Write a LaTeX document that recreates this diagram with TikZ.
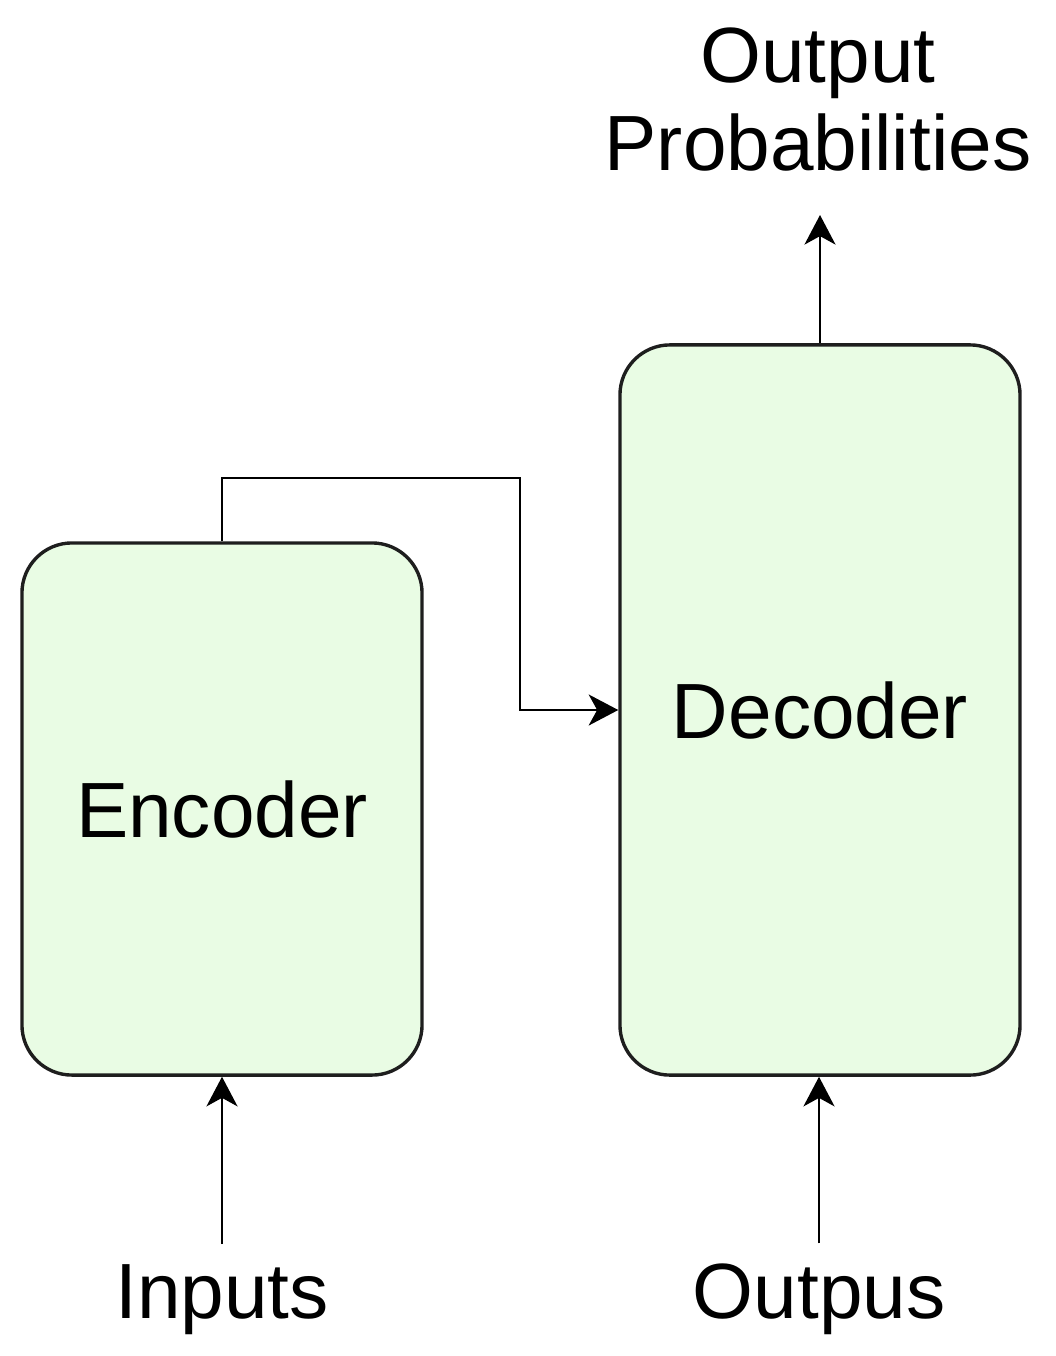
\documentclass[tikz,border=0pt]{standalone}
\usepackage{fontspec}
\setmainfont{Liberation Sans}
\usepackage{tikz}
\usetikzlibrary{positioning}
\usetikzlibrary{arrows.meta}
\definecolor{blockfill}{RGB}{233,252,228}
\definecolor{blockline}{RGB}{30,30,30}
\tikzset{block/.style={draw=blockline, fill=blockfill, line width=2.4pt, rounded corners=1.25cm, minimum width=10cm}}
\tikzset{label/.style={inner sep=14pt}}
\tikzset{flow/.style={line width=2.1pt, -{Stealth[length=21pt,width=22pt,inset=6pt]}}}

\begin{document}
\begin{tikzpicture}[x=0.025cm,y=-0.025cm,font=\fontsize{55.7pt}{62.4pt}\selectfont]
\useasboundingbox (0,0) rectangle (1055,1356);
\node[block, minimum height=13.3cm] (enc) at (222,809) {Encoder};
\node[block, minimum height=18.25cm] (dec) at (820,710) {Decoder};
\node[label, anchor=base] (inp) at (222,1318) {Inputs};
\node[label, anchor=base] (outs) at (819,1318) {Outpus};
\node[label, align=center, anchor=base] (prob) at (818,170) {Output\\Probabilities};
\coordinate (tip) at (820,215);
\coordinate (bend) at (520,478);
\draw[flow] (inp) -- (enc);
\draw[flow] (outs.north) -- (outs.north |- dec.south);
\draw[flow] (dec) -- (tip);
\draw[flow] (enc.north) |- (bend) |- (dec.west);
\end{tikzpicture}
\end{document}
